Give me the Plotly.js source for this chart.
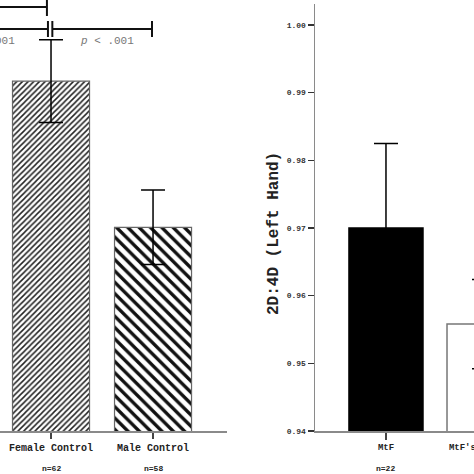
<!DOCTYPE html>
<html>
<head>
<meta charset="utf-8">
<script src="https://cdn.plot.ly/plotly-3.0.1.min.js"></script>
<style>
html,body{margin:0;padding:0;width:474px;height:474px;overflow:hidden;background:#fff;}
#chart{position:absolute;left:-110px;top:0;width:680px;height:474px;}
</style>
</head>
<body>
<div id="chart"></div>
<script>
// Left panel (controls)
var controlGroups = ['Female Control', 'Male Control'];
var controlMeans = [0.9917, 0.9701];
var controlErrors = [0.0061, 0.0055];
var controlN = ['n=62', 'n=58'];

// Right panel (left hand)
var mtfGroups = ['MtF', "MtF's Brother"];
var mtfMeans = [0.9700, 0.9558];
var mtfErrors = [0.0125, 0.0066];
var mtfN = ['n=22', 'n=20'];

var yTicks = [0.94, 0.95, 0.96, 0.97, 0.98, 0.99, 1.00];
var pLabel = '<i>p</i> < .001';

var monoFont = 'Liberation Mono, Courier New, monospace';

var traces = [
  {
    type: 'bar', x: [controlGroups[0]], y: [controlMeans[0]],
    xaxis: 'x', yaxis: 'y',
    marker: {color: '#ffffff', line: {color: '#666', width: 1.2},
      pattern: {shape: '/', size: 4, solidity: 0.38, fgcolor: '#222', bgcolor: '#fff'}},
    error_y: {type: 'data', array: [controlErrors[0]], color: '#000', thickness: 1.5, width: 12},
    showlegend: false, hoverinfo: 'skip'
  },
  {
    type: 'bar', x: [controlGroups[1]], y: [controlMeans[1]],
    xaxis: 'x', yaxis: 'y',
    marker: {color: '#ffffff', line: {color: '#666', width: 1.2},
      pattern: {shape: '\\', size: 8, solidity: 0.42, fgcolor: '#111', bgcolor: '#fff'}},
    error_y: {type: 'data', array: [controlErrors[1]], color: '#000', thickness: 1.5, width: 12},
    showlegend: false, hoverinfo: 'skip'
  },
  {
    type: 'bar', x: mtfGroups, y: mtfMeans,
    xaxis: 'x2', yaxis: 'y2',
    marker: {color: ['#000000', '#ffffff'], line: {color: ['#000', '#777'], width: 1.5}},
    error_y: {type: 'data', array: mtfErrors, color: '#000', thickness: 1.5, width: 12},
    showlegend: false, hoverinfo: 'skip'
  }
];

var pxPerUnit = 6767; // pixels per 1.0 of ratio
var plotH = 431;
var y0 = 0.94;

var layout = {
  width: 680, height: 474,
  margin: {l: 0, r: 0, t: 0, b: 43},
  paper_bgcolor: '#fff', plot_bgcolor: 'rgba(0,0,0,0)',
  bargap: 0.245,
  font: {family: monoFont, color: '#222'},
  xaxis: {
    domain: [0.13176, 0.49559], type: 'category',
    categoryarray: controlGroups, range: [-0.7, 1.725],
    showline: true, linecolor: '#8a8a8a', linewidth: 1.5,
    ticks: 'outside', ticklen: 6, tickwidth: 1.5, tickcolor: '#444',
    tickfont: {family: monoFont, size: 10, color: '#222', weight: 'bold'},
    showgrid: false, zeroline: false
  },
  yaxis: {
    domain: [0, 1], range: [y0, y0 + plotH / pxPerUnit],
    visible: false, showgrid: false, zeroline: false
  },
  xaxis2: {
    domain: [0.625, 0.97794], type: 'category',
    categoryarray: mtfGroups, range: [-0.724, 1.724], anchor: 'y2',
    showline: true, linecolor: '#8a8a8a', linewidth: 1.5,
    ticks: 'outside', ticklen: 7, tickwidth: 1.5, tickcolor: '#444',
    tickfont: {family: monoFont, size: 9, color: '#222', weight: 'bold'},
    showgrid: false, zeroline: false
  },
  yaxis2: {
    domain: [0, 1 - 4 / plotH], range: [y0, y0 + (plotH - 4) / pxPerUnit], anchor: 'x2',
    tickvals: yTicks,
    ticktext: yTicks.map(function(v){ return v.toFixed(2); }),
    showline: true, linecolor: '#8a8a8a', linewidth: 1.5,
    ticks: 'outside', ticklen: 6, tickwidth: 1.5, tickcolor: '#333',
    tickfont: {family: monoFont, size: 8, color: '#333', weight: 'bold'},
    showgrid: false, zeroline: false
  },
  shapes: [],
  annotations: []
};

// y-axis title placed as rotated text to match the reference position
layout.annotations.push({
  xref: 'paper', yref: 'paper', x: 384 / 680, y: 1 - 234 / plotH,
  xanchor: 'center', yanchor: 'middle', textangle: -90, showarrow: false,
  text: '2D:4D (Left Hand)',
  font: {family: monoFont, size: 16, color: '#222', weight: 'bold'}
});

// significance brackets (data coords of left panel)
var bl = {color: '#111', width: 2};
layout.shapes.push(
  {type: 'line', xref: 'x', yref: 'y', x0: -0.7, x1: -0.04, y0: 1.00266, y1: 1.00266, line: bl},
  {type: 'line', xref: 'x', yref: 'y', x0: -0.04, x1: -0.04, y0: 1.00369, y1: 1.00133, line: bl},
  {type: 'line', xref: 'x', yref: 'y', x0: -0.7, x1: -0.03, y0: 0.99941, y1: 0.99941, line: bl},
  {type: 'line', xref: 'x', yref: 'y', x0: -0.03, x1: -0.03, y0: 1.00059, y1: 0.99822, line: bl},
  {type: 'line', xref: 'x', yref: 'y', x0: 0.013, x1: 0.99, y0: 0.99941, y1: 0.99941, line: bl},
  {type: 'line', xref: 'x', yref: 'y', x0: 0.013, x1: 0.013, y0: 1.00059, y1: 0.99822, line: bl},
  {type: 'line', xref: 'x', yref: 'y', x0: 0.99, x1: 0.99, y0: 1.00059, y1: 0.99822, line: bl}
);
layout.annotations.push(
  {xref: 'x', yref: 'y', x: 0.55, y: 0.99765, text: pLabel, showarrow: false,
   font: {family: monoFont, size: 11, color: '#777'}},
  {xref: 'x', yref: 'y', x: -0.62, y: 0.99765, text: pLabel, showarrow: false,
   font: {family: monoFont, size: 11, color: '#777'}}
);
// sample sizes
controlGroups.forEach(function(g, i){
  layout.annotations.push({xref: 'x', yref: 'paper', x: g, y: -37 / plotH, yanchor: 'middle',
    text: controlN[i], showarrow: false, font: {family: monoFont, size: 8, color: '#222', weight: 'bold'}});
});
mtfGroups.forEach(function(g, i){
  layout.annotations.push({xref: 'x2', yref: 'paper', x: g, y: -37 / plotH, yanchor: 'middle',
    text: mtfN[i], showarrow: false, font: {family: monoFont, size: 8, color: '#222', weight: 'bold'}});
});

Plotly.newPlot('chart', traces, layout, {staticPlot: true, displayModeBar: false});
</script>
</body>
</html>
